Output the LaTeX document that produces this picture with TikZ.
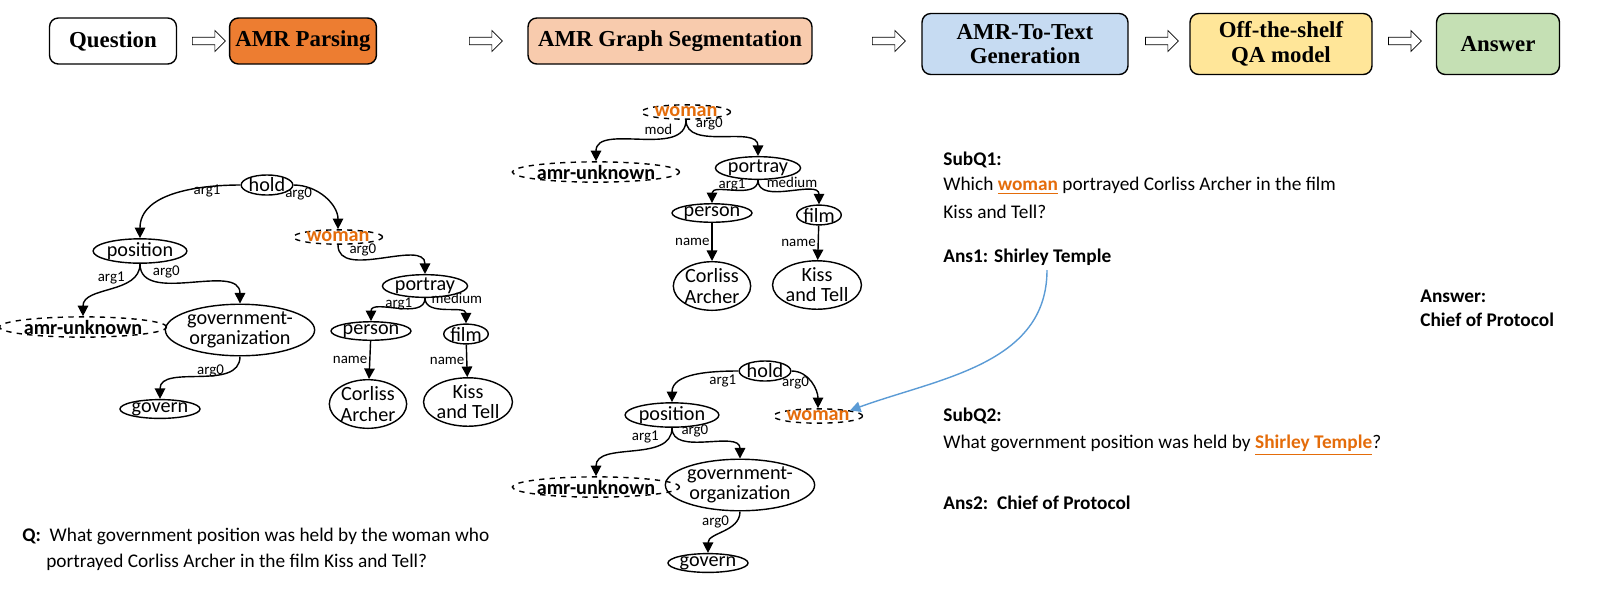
\documentclass[tikz,border=0pt]{standalone}
\usepackage{fontspec}
\setmainfont{Carlito}
\newfontfamily\tms{Liberation Serif}
\usetikzlibrary{shapes.geometric,shapes.arrows,arrows.meta}
\definecolor{amrorange}{HTML}{E46C0A}
\definecolor{boxorange}{HTML}{ED7D31}
\definecolor{boxpeach}{HTML}{F8CBAD}
\definecolor{boxblue}{HTML}{C6DBF2}
\definecolor{boxyellow}{HTML}{FFE699}
\definecolor{boxgreen}{HTML}{C5E0B4}
\definecolor{curveblue}{HTML}{5B9BD5}
\tikzset{
  stage/.style={draw, thick, rounded corners=5pt, minimum height=0.92cm, font=\tms\bfseries\fontsize{13}{14}\selectfont, align=center},
  nd/.style={draw, thick, ellipse, inner sep=0pt, font=\fontsize{11.5}{11.5}\selectfont, align=center},
  dn/.style={nd, dashed},
  gt/.style={-{Triangle[length=6pt,width=6pt]}, thick},
  lbl/.style={font=\fontsize{8.5}{8.5}\selectfont, inner sep=1pt},
  hollow/.style={draw, single arrow, minimum width=0.42cm, single arrow head extend=2.5pt, minimum height=0.66cm, inner sep=1.2pt},
  txt/.style={anchor=west, font=\fontsize{11}{13}\selectfont, inner sep=0pt}
}
\begin{document}
\begin{tikzpicture}[x=0.02cm,y=-0.02cm]

% pipeline
\node[stage, minimum width=2.54cm] (question) at (113,41) {Question};
\node[stage, fill=boxorange, minimum width=2.74cm] (parse) at (303,41) {AMR Parsing};
\node[stage, fill=boxpeach, minimum width=5.68cm] (segment) at (670,41) {AMR Graph Segmentation};
\node[stage, fill=boxblue, minimum width=4.12cm, minimum height=1.22cm] (totext) at (1025,44) {AMR-To-Text\\Generation};
\node[stage, fill=boxyellow, minimum width=3.64cm, minimum height=1.22cm] (qamodel) at (1281,44) {Off-the-shelf\\QA model};
\node[stage, fill=boxgreen, minimum width=2.46cm, minimum height=1.22cm] (answer) at (1498,44) {Answer};

\node[hollow] (a1) at (207,41) {};
\node[hollow] (a2) at (484,41) {};
\node[hollow] (a3) at (887,41) {};
\node[hollow] (a4) at (1160,41) {};
\node[hollow] (a5) at (1403,41) {};

% left graph
\node[nd] (hold) at (267,185) {hold};
\node[dn] (woman) at (338,237) {\textcolor{amrorange}{\bfseries woman}};
\node[nd] (position) at (140,251) {position};
\node[nd] (portray) at (425,286) {portray};
\node[dn] (unknown) at (83,327) {\bfseries amr-unknown};
\node[nd] (govorg) at (240,330) {government-\\organization};
\node[nd] (person) at (371,331) {person};
\node[nd] (film) at (466,334) {film};
\node[nd] (govern) at (160,409) {govern};
\node[nd] (corliss) at (368,404) {Corliss\\Archer};
\node[nd] (kiss) at (468,402) {Kiss\\and Tell};

\draw[gt] (hold.west) to[out=180,in=90] node[lbl, pos=0.4, right=3pt] {arg1} (position.north);
\draw[gt] (hold.east) to[out=0,in=90] node[lbl, pos=0.4, left=3pt] {arg0} (woman.north);
\draw[gt] (woman.south) to[out=-90,in=90] node[lbl, pos=0.2, above right] {arg0} (portray.north);
\draw[gt] (position.south) to[out=-90,in=90] node[lbl, pos=0.2, left=4pt] {arg1} (unknown.north);
\draw[gt] (position.south) to[out=-90,in=90] node[lbl, pos=0.2, above right] {arg0} (govorg.north);
\draw[gt] (govorg.south) to[out=-90,in=90] node[lbl, pos=0.2, left=3pt] {arg0} (govern.north);
\draw[gt] (portray.south) to[out=-90,in=90] node[lbl, pos=0.1, left=5pt] {arg1} (person.north);
\draw[gt] (portray.south) to[out=-90,in=90] node[lbl, pos=0.2, above right] {medium} (film.north);
\draw[gt] (person) -- node[lbl, left] {name} (corliss);
\draw[gt] (film) -- node[lbl, left] {name} (kiss);

% segmented graph
\node[dn] (mwoman) at (686,112) {\textcolor{amrorange}{\bfseries woman}};
\node[dn] (munknown) at (596,172) {\bfseries amr-unknown};
\node[nd] (mportray) at (758,168) {portray};
\node[nd] (mperson) at (712,213) {person};
\node[nd] (mfilm) at (819,215) {film};
\node[nd] (mcorliss) at (712,286) {Corliss\\Archer};
\node[nd] (mkiss) at (817,285) {Kiss\\and Tell};

\draw[gt] (mwoman.south) to[out=-90,in=90] node[lbl, pos=0.1, left=5pt] {mod} (munknown.north);
\draw[gt] (mwoman.south) to[out=-90,in=90] node[lbl, pos=0.2, above right] {arg0} (mportray.north);
\draw[gt] (mportray.south) to[out=-90,in=90] node[lbl, pos=0.1, left=5pt] {arg1} (mperson.north);
\draw[gt] (mportray.south) to[out=-90,in=90] node[lbl, pos=0.2, above right] {medium} (mfilm.north);
\draw[gt] (mperson) -- node[lbl, left] {name} (mcorliss);
\draw[gt] (mfilm) -- node[lbl, left] {name} (mkiss);

% bottom graph
\node[nd] (bhold) at (765,371) {hold};
\node[nd] (bposition) at (672,415) {position};
\node[dn] (bwoman) at (818,416) {\textcolor{amrorange}{\bfseries woman}};
\node[dn] (bunknown) at (596,487) {\bfseries amr-unknown};
\node[nd] (bgovorg) at (740,485) {government-\\organization};
\node[nd] (bgovern) at (708,563) {govern};

\draw[gt] (bhold.west) to[out=180,in=90] node[lbl, pos=0.35, below right] {arg1} (bposition.north);
\draw[gt] (bhold.east) to[out=0,in=90] node[lbl, pos=0.5, left] {arg0} (bwoman.north);
\draw[gt] (bposition.south) to[out=-90,in=90] node[lbl, pos=0.1, left=5pt] {arg1} (bunknown.north);
\draw[gt] (bposition.south) to[out=-90,in=90] node[lbl, pos=0.2, above right] {arg0} (bgovorg.north);
\draw[gt] (bgovorg.south) to[out=-90,in=90] node[lbl, pos=0.2, left=3pt] {arg0} (bgovern.north);

% sub-questions
\node[txt, font=\bfseries\fontsize{11}{13}\selectfont] (subq1) at (943,160) {SubQ1:};
\node[txt] (q1a) at (943,186) {Which \textcolor{amrorange}{\underline{\bfseries woman}} portrayed Corliss Archer in the film};
\node[txt] (q1b) at (943,212) {Kiss and Tell?};
\node[txt, font=\bfseries\fontsize{11}{13}\selectfont] (ans1) at (943,257) {Ans1: Shirley Temple};
\node[txt, font=\bfseries\fontsize{11}{13}\selectfont] (final) at (1420,296) {Answer:};
\node[txt, font=\bfseries\fontsize{11}{13}\selectfont] (finalb) at (1420,320) {Chief of Protocol};
\node[txt, font=\bfseries\fontsize{11}{13}\selectfont] (subq2) at (943,416) {SubQ2:};
\node[txt] (q2a) at (943,445) {What government position was held by \textcolor{amrorange}{\underline{\bfseries Shirley Temple}}?};
\node[txt, font=\bfseries\fontsize{11}{13}\selectfont] (ans2) at (943,503) {Ans2:\ \ Chief of Protocol};
\node[txt] (qa) at (22,536) {\textbf{Q:}\ \ What government position was held by the woman who};
\node[txt] (qb) at (46,562) {portrayed Corliss Archer in the film Kiss and Tell?};

\coordinate (from) at (1047,270);
\draw[curveblue, thick, -{Triangle[length=6pt,width=6pt]}] (from) to[out=-90,in=20] (bwoman.north east);

\pgfresetboundingbox
\useasboundingbox (0,0) rectangle (1623,603);
\end{tikzpicture}
\end{document}
